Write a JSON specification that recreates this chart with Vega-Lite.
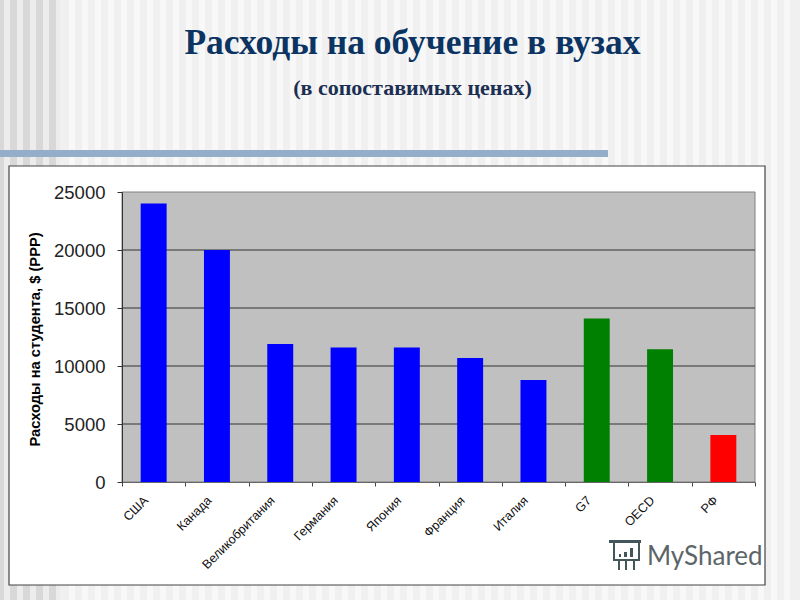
{
  "$schema": "https://vega.github.io/schema/vega-lite/v6.json",
  "autosize": "none",
  "padding": {"left": 122, "top": 192, "right": 45, "bottom": 118},
  "width": 633,
  "height": 290,
  "background": "#f0f0f0",
  "title": {
    "text": "Расходы на обучение в вузах",
    "subtitle": "(в сопоставимых ценах)",
    "anchor": "middle",
    "dx": -26,
    "offset": -99,
    "font": "Liberation Serif",
    "fontSize": 35.5,
    "fontWeight": "bold",
    "color": "#0b3463",
    "subtitleFont": "Liberation Serif",
    "subtitleFontSize": 22,
    "subtitleFontWeight": "bold",
    "subtitleColor": "#1b2f52",
    "subtitlePadding": 17
  },
  "config": {"view": {"stroke": null}},
  "resolve": {"scale": {"x": "independent", "y": "independent"}},
  "layer": [
    {
      "encoding": {
        "x": {"field": "x0", "type": "quantitative", "scale": {"domain": [122, 755]}, "axis": null},
        "x2": {"field": "x1"},
        "y": {"field": "y0", "type": "quantitative", "scale": {"domain": [482, 192]}, "axis": null},
        "y2": {"field": "y1"}
      },
      "layer": [
        {
          "data": {"values": [{"x0": 0, "x1": 60, "y0": 0, "y1": 600}]},
          "mark": {"type": "rect", "color": "#d8d8d8"}
        },
        {
          "data": {"values": [
            {"x0": 4, "x1": 10, "y0": 0, "y1": 600}, {"x0": 17, "x1": 23, "y0": 0, "y1": 600},
            {"x0": 30, "x1": 36, "y0": 0, "y1": 600}, {"x0": 43, "x1": 49, "y0": 0, "y1": 600},
            {"x0": 56, "x1": 60, "y0": 0, "y1": 600}, {"x0": 69, "x1": 75, "y0": 0, "y1": 600},
            {"x0": 82, "x1": 88, "y0": 0, "y1": 600}, {"x0": 95, "x1": 101, "y0": 0, "y1": 600},
            {"x0": 108, "x1": 114, "y0": 0, "y1": 600}, {"x0": 121, "x1": 127, "y0": 0, "y1": 600},
            {"x0": 134, "x1": 140, "y0": 0, "y1": 600}, {"x0": 147, "x1": 153, "y0": 0, "y1": 600},
            {"x0": 160, "x1": 166, "y0": 0, "y1": 600}, {"x0": 173, "x1": 179, "y0": 0, "y1": 600},
            {"x0": 186, "x1": 192, "y0": 0, "y1": 600}, {"x0": 199, "x1": 205, "y0": 0, "y1": 600},
            {"x0": 212, "x1": 218, "y0": 0, "y1": 600}, {"x0": 225, "x1": 231, "y0": 0, "y1": 600},
            {"x0": 238, "x1": 244, "y0": 0, "y1": 600}, {"x0": 251, "x1": 257, "y0": 0, "y1": 600},
            {"x0": 264, "x1": 270, "y0": 0, "y1": 600}, {"x0": 277, "x1": 283, "y0": 0, "y1": 600},
            {"x0": 290, "x1": 296, "y0": 0, "y1": 600}, {"x0": 303, "x1": 309, "y0": 0, "y1": 600},
            {"x0": 316, "x1": 322, "y0": 0, "y1": 600}, {"x0": 329, "x1": 335, "y0": 0, "y1": 600},
            {"x0": 342, "x1": 348, "y0": 0, "y1": 600}, {"x0": 355, "x1": 361, "y0": 0, "y1": 600},
            {"x0": 368, "x1": 374, "y0": 0, "y1": 600}, {"x0": 381, "x1": 387, "y0": 0, "y1": 600},
            {"x0": 394, "x1": 400, "y0": 0, "y1": 600}, {"x0": 407, "x1": 413, "y0": 0, "y1": 600},
            {"x0": 420, "x1": 426, "y0": 0, "y1": 600}, {"x0": 433, "x1": 439, "y0": 0, "y1": 600},
            {"x0": 446, "x1": 452, "y0": 0, "y1": 600}, {"x0": 459, "x1": 465, "y0": 0, "y1": 600},
            {"x0": 472, "x1": 478, "y0": 0, "y1": 600}, {"x0": 485, "x1": 491, "y0": 0, "y1": 600},
            {"x0": 498, "x1": 504, "y0": 0, "y1": 600}, {"x0": 511, "x1": 517, "y0": 0, "y1": 600},
            {"x0": 524, "x1": 530, "y0": 0, "y1": 600}, {"x0": 537, "x1": 543, "y0": 0, "y1": 600},
            {"x0": 550, "x1": 556, "y0": 0, "y1": 600}, {"x0": 563, "x1": 569, "y0": 0, "y1": 600},
            {"x0": 576, "x1": 582, "y0": 0, "y1": 600}, {"x0": 589, "x1": 595, "y0": 0, "y1": 600},
            {"x0": 602, "x1": 608, "y0": 0, "y1": 600}, {"x0": 615, "x1": 621, "y0": 0, "y1": 600},
            {"x0": 628, "x1": 634, "y0": 0, "y1": 600}, {"x0": 641, "x1": 647, "y0": 0, "y1": 600},
            {"x0": 654, "x1": 660, "y0": 0, "y1": 600}, {"x0": 667, "x1": 673, "y0": 0, "y1": 600},
            {"x0": 680, "x1": 686, "y0": 0, "y1": 600}, {"x0": 693, "x1": 699, "y0": 0, "y1": 600},
            {"x0": 706, "x1": 712, "y0": 0, "y1": 600}, {"x0": 719, "x1": 725, "y0": 0, "y1": 600},
            {"x0": 732, "x1": 738, "y0": 0, "y1": 600}, {"x0": 745, "x1": 751, "y0": 0, "y1": 600},
            {"x0": 758, "x1": 764, "y0": 0, "y1": 600}, {"x0": 771, "x1": 777, "y0": 0, "y1": 600},
            {"x0": 784, "x1": 790, "y0": 0, "y1": 600}
          ]},
          "mark": {"type": "rect", "color": "#ffffff", "opacity": 0.5}
        },
        {
          "data": {"values": [{"x0": 0, "x1": 608, "y0": 150, "y1": 157}]},
          "mark": {"type": "rect", "color": "#94aec9"}
        },
        {
          "data": {"values": [{"x0": 9, "x1": 765, "y0": 166, "y1": 585}]},
          "mark": {"type": "rect", "color": "#ffffff", "stroke": "#444444", "strokeWidth": 1.2}
        },
        {
          "data": {"values": [{"x0": 122, "x1": 755, "y0": 192, "y1": 482}]},
          "mark": {"type": "rect", "color": "#c0c0c0", "stroke": "#808080", "strokeWidth": 1}
        },
        {
          "data": {"values": [
            {"x0": 609, "x1": 641, "y0": 540, "y1": 543},
            {"x0": 613, "x1": 615, "y0": 543, "y1": 561},
            {"x0": 638, "x1": 640, "y0": 543, "y1": 561},
            {"x0": 613, "x1": 640, "y0": 559, "y1": 561},
            {"x0": 619, "x1": 621, "y0": 554, "y1": 557},
            {"x0": 624, "x1": 627, "y0": 552, "y1": 557},
            {"x0": 630, "x1": 633, "y0": 548, "y1": 557},
            {"x0": 618, "x1": 620, "y0": 561, "y1": 570},
            {"x0": 625, "x1": 627, "y0": 561, "y1": 570},
            {"x0": 633, "x1": 635, "y0": 561, "y1": 570}
          ]},
          "mark": {"type": "rect", "color": "#45565a"}
        }
      ]
    },
    {
      "data": {"values": [{"x0": 647, "y0": 565, "label": "MyShared"}]},
      "mark": {"type": "text", "align": "left", "baseline": "alphabetic", "font": "Lato", "fontSize": 26, "color": "#5c6668"},
      "encoding": {
        "x": {"field": "x0", "type": "quantitative", "scale": {"domain": [122, 755]}, "axis": null},
        "y": {"field": "y0", "type": "quantitative", "scale": {"domain": [482, 192]}, "axis": null},
        "text": {"field": "label"}
      }
    },
    {
      "data": {"values": [{"level": 5000}, {"level": 10000}, {"level": 15000}, {"level": 20000}]},
      "mark": {"type": "rule", "color": "#333333", "strokeWidth": 1},
      "encoding": {
        "y": {"field": "level", "type": "quantitative", "scale": {"domain": [0, 25000]}, "axis": null}
      }
    },
    {
      "data": {"values": [
        {"country": "США", "cost": 24000, "group": "страна"},
        {"country": "Канада", "cost": 20000, "group": "страна"},
        {"country": "Великобритания", "cost": 11900, "group": "страна"},
        {"country": "Германия", "cost": 11600, "group": "страна"},
        {"country": "Япония", "cost": 11600, "group": "страна"},
        {"country": "Франция", "cost": 10700, "group": "страна"},
        {"country": "Италия", "cost": 8800, "group": "страна"},
        {"country": "G7", "cost": 14100, "group": "группа"},
        {"country": "OECD", "cost": 11450, "group": "группа"},
        {"country": "РФ", "cost": 4050, "group": "РФ"}
      ]},
      "mark": {"type": "bar", "width": {"band": 0.41}},
      "encoding": {
        "x": {
          "field": "country",
          "type": "nominal",
          "sort": null,
          "title": null,
          "scale": {"paddingInner": 0, "paddingOuter": 0},
          "axis": {
            "orient": "bottom",
            "zindex": 1,
            "labelAngle": -45,
            "labelAlign": "right",
            "labelBaseline": "middle",
            "labelFont": "Liberation Sans",
            "labelFontSize": 12.6,
            "labelColor": "#111111",
            "labelPadding": 12,
            "labelOffset": -8,
            "tickBand": "extent",
            "tickSize": 4,
            "tickColor": "#444444",
            "domainColor": "#666666",
            "grid": false
          }
        },
        "y": {
          "field": "cost",
          "type": "quantitative",
          "scale": {"domain": [0, 25000]},
          "title": "Расходы на студента, $ (PPP)",
          "axis": {
            "orient": "left",
            "zindex": 1,
            "values": [0, 5000, 10000, 15000, 20000, 25000],
            "format": "d",
            "grid": false,
            "labelFont": "Liberation Sans",
            "labelFontSize": 18.5,
            "labelColor": "#222222",
            "labelPadding": 12,
            "tickSize": 5,
            "tickColor": "#333333",
            "domainColor": "#333333",
            "titleFont": "Liberation Sans",
            "titleFontSize": 14.7,
            "titleFontWeight": "bold",
            "titleColor": "#000000",
            "titlePadding": 11,
            "titleY": 147
          }
        },
        "color": {
          "field": "group",
          "type": "nominal",
          "scale": {"domain": ["страна", "группа", "РФ"], "range": ["#0000ff", "#008000", "#ff0000"]},
          "legend": null
        }
      }
    }
  ]
}
